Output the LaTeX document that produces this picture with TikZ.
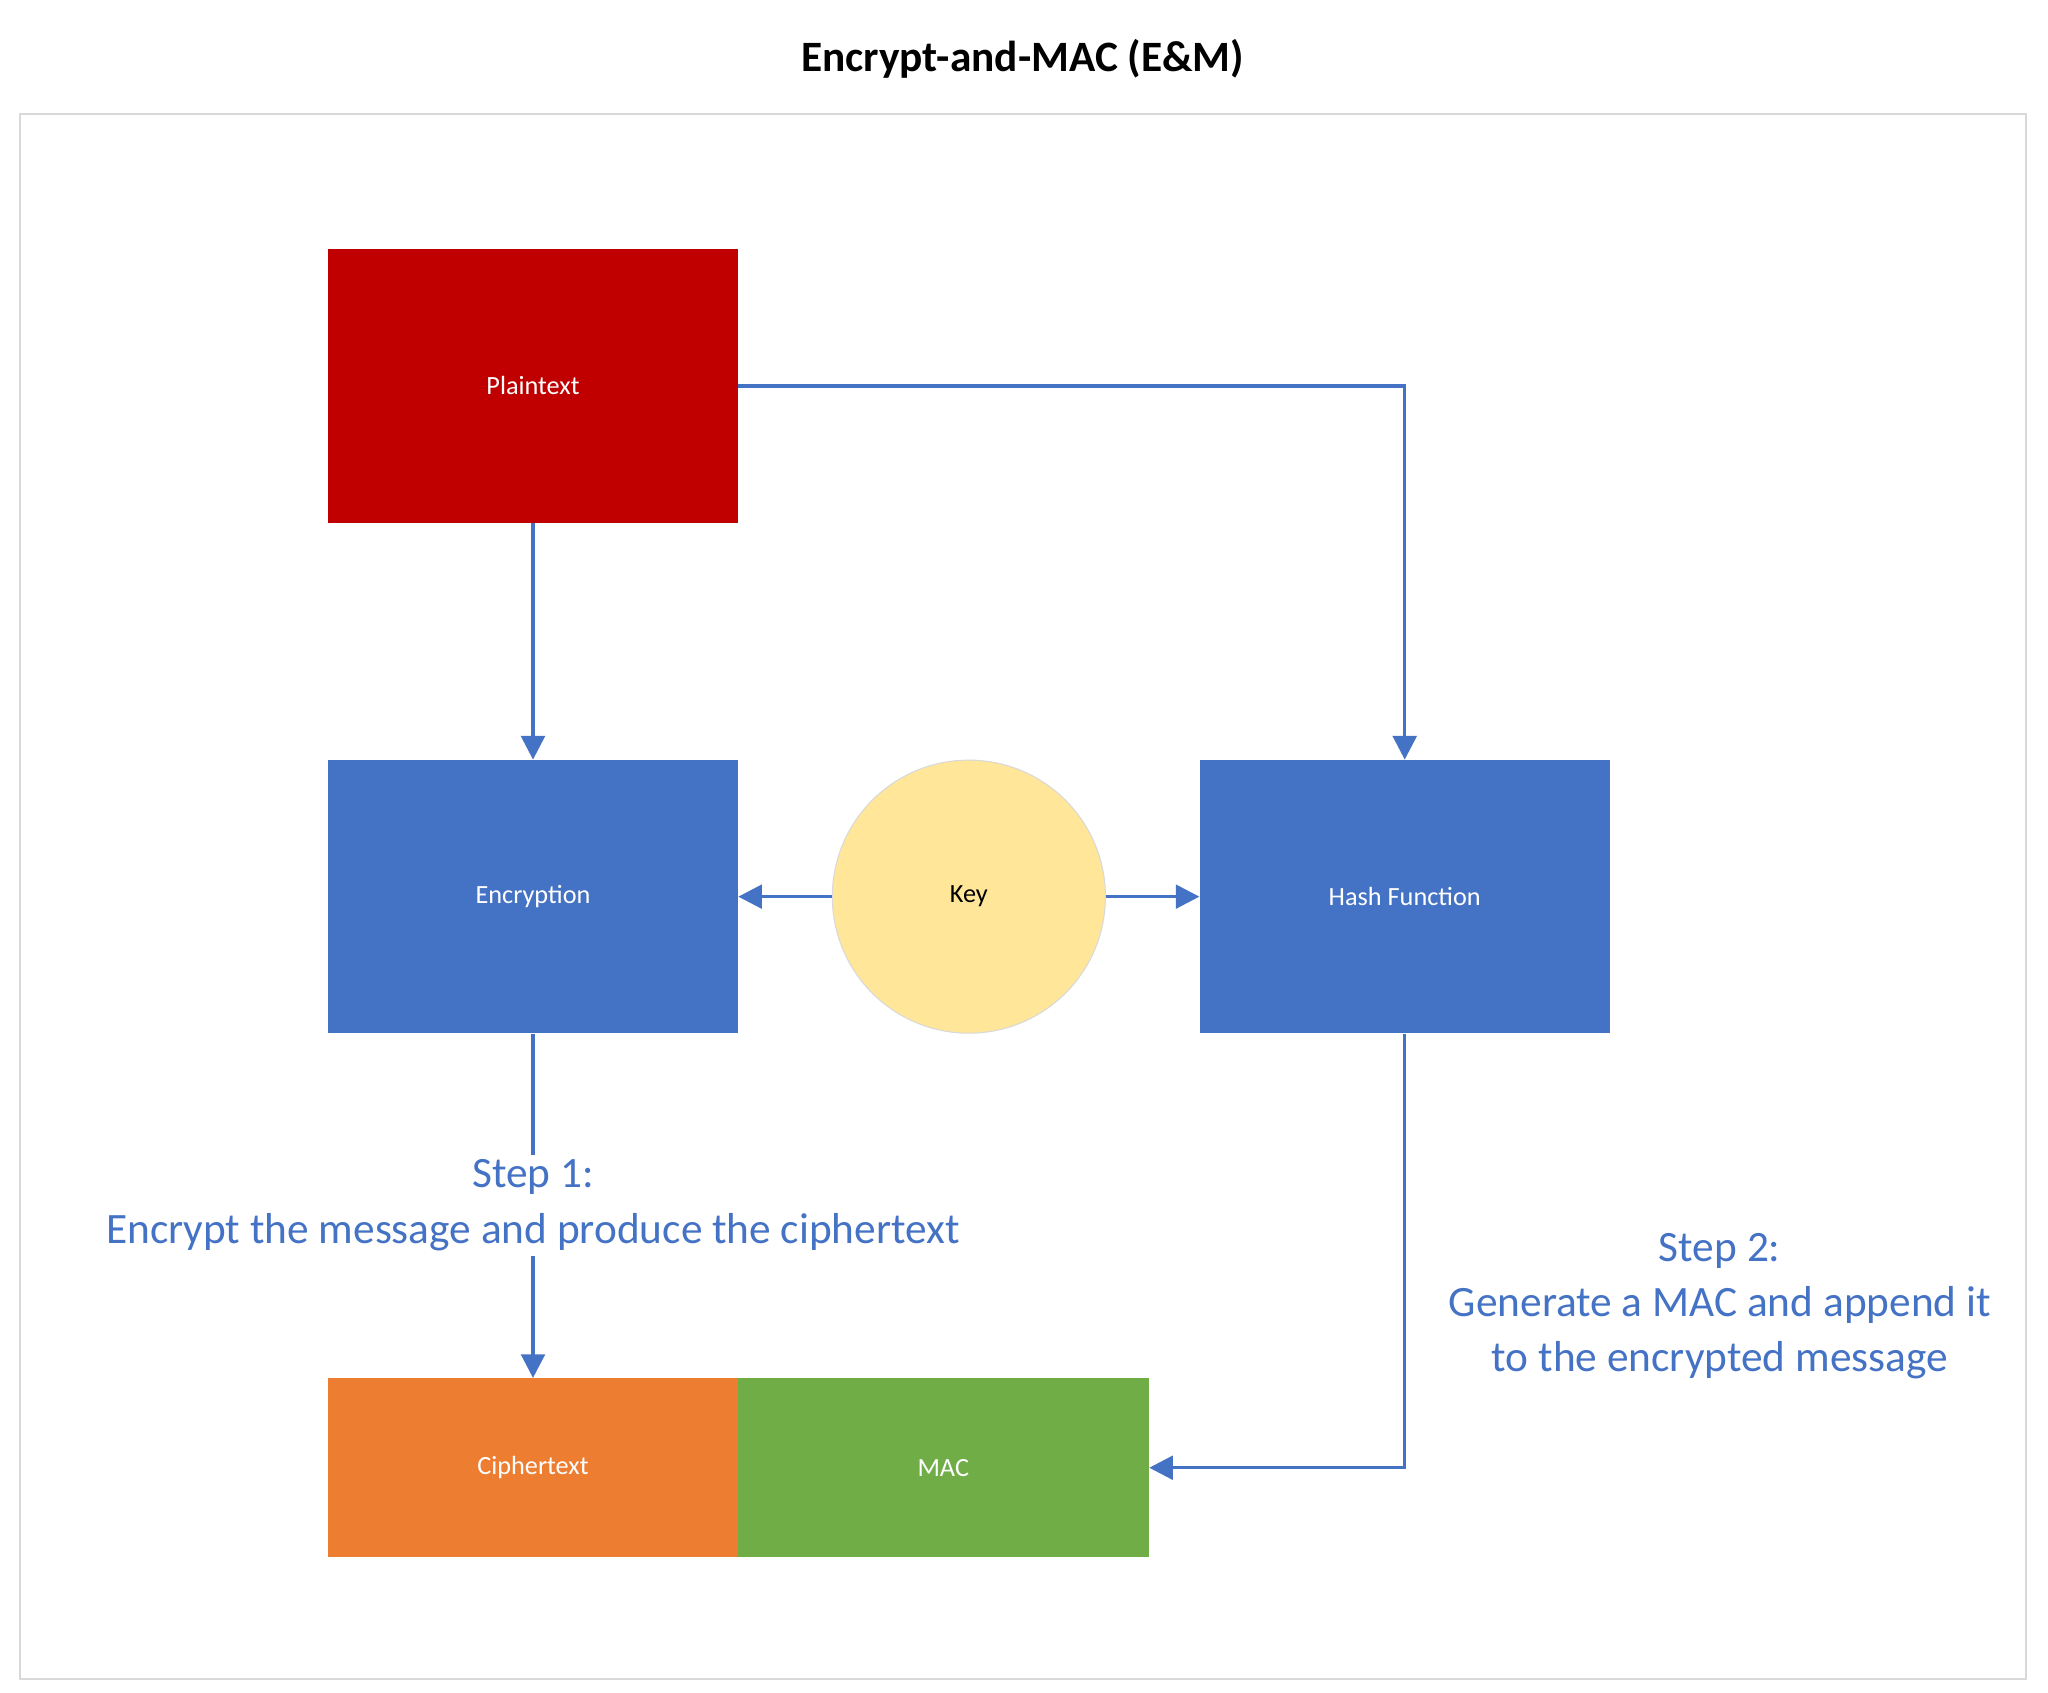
\documentclass[tikz,border=0pt]{standalone}
\usepackage{fontspec}
\setmainfont{Carlito}
\usetikzlibrary{arrows.meta}
\definecolor{cred}{HTML}{C00000}
\definecolor{cblue}{HTML}{4472C4}
\definecolor{cyel}{HTML}{FFE699}
\definecolor{corg}{HTML}{ED7D31}
\definecolor{cgrn}{HTML}{70AD47}
\definecolor{cline}{HTML}{4472C4}
\begin{document}
\begin{tikzpicture}[x=0.5pt,y=-0.5pt,
  box/.style={draw=none,minimum width=156pt,inner sep=0pt,text=white,font=\fontsize{10}{12}\selectfont},
  arr/.style={draw=cline,line width=1.3pt,-{Triangle[width=9pt,length=9pt]}},
  steptext/.style={text=cblue,align=center,font=\fontsize{16.5}{21}\selectfont}]
\useasboundingbox (0,0) rectangle (1560,1289);
\fill[white] (0,0) rectangle (1560,1289);
\node[font=\bfseries\fontsize{16.5}{20}\selectfont] (title) at (779,45) {Encrypt-and-MAC (E\&M)};
\draw[draw=black!15,line width=0.8pt] (15,87) rectangle (1543,1279);
\node[box,fill=cred,minimum height=104pt] (plain) at (406,294) {Plaintext};
\node[box,fill=cblue,minimum height=104pt] (enc) at (406,683) {Encryption};
\node[box,fill=cblue,minimum height=104pt] (hash) at (1070,683) {Hash Function};
\node[circle,fill=cyel,draw=black!15,minimum size=104pt,inner sep=0pt,font=\fontsize{10}{12}\selectfont] (key) at (738,683) {Key};
\node[box,fill=corg,minimum height=68pt] (ct) at (406,1118) {Ciphertext};
\node[box,fill=cgrn,minimum height=68pt,minimum width=156.5pt] (mac) at (718.5,1118) {MAC};
\draw[arr] (plain) -- (enc);
\draw[arr] (plain.east) -| (hash.north);
\draw[arr] (key) -- (enc);
\draw[arr] (key) -- (hash);
\draw[arr] (enc) -- (ct);
\draw[arr] (hash.south) |- (mac.east);
\node[steptext,fill=white,inner sep=2pt] (s1) at (406,918) {Step 1:\\Encrypt the message and produce the ciphertext};
\node[steptext] (s2) at (1310,995) {Step 2:\\Generate a MAC and append it\\to the encrypted message};
\end{tikzpicture}
\end{document}
